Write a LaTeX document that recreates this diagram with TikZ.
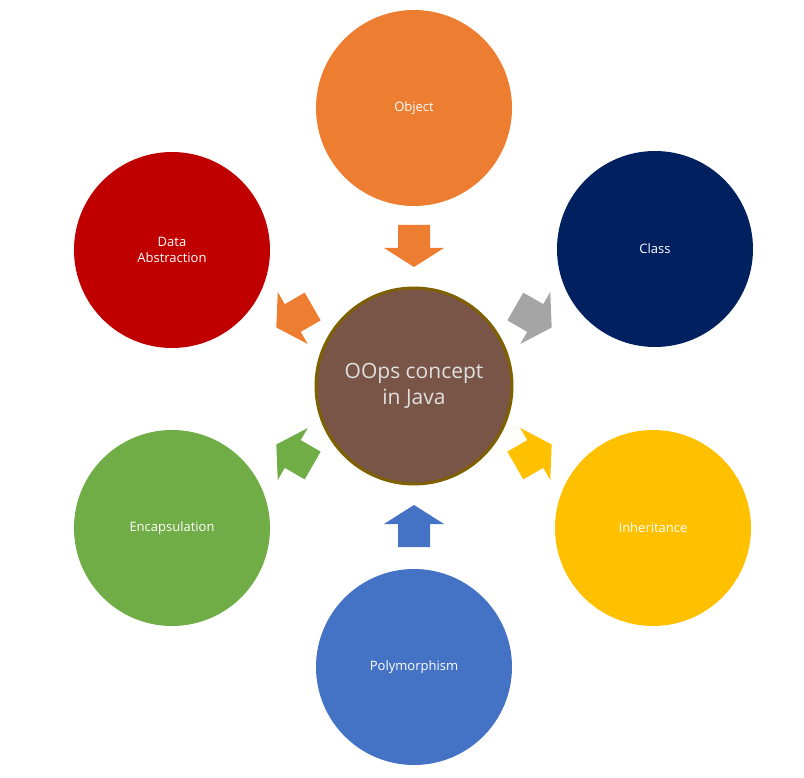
\documentclass[tikz,border=0pt]{standalone}
\usepackage{fontspec}
\setmainfont{Open Sans}
\definecolor{cobj}{HTML}{ED7D31}
\definecolor{ccls}{HTML}{002060}
\definecolor{cinh}{HTML}{FFC000}
\definecolor{cpol}{HTML}{4472C4}
\definecolor{cenc}{HTML}{70AD47}
\definecolor{cda}{HTML}{C00000}
\definecolor{cgray}{HTML}{A5A5A5}
\definecolor{ccen}{HTML}{795548}
\definecolor{cbor}{HTML}{7F6000}
\tikzset{
  outer/.style={circle,minimum size=196pt,inner sep=0pt,text=white,font=\fontsize{13}{16}\selectfont,align=center},
  blockarrow/.pic={\fill[#1] (-21pt,-16pt) -- (2pt,-16pt) -- (2pt,-30pt) -- (21pt,0pt) -- (2pt,30pt) -- (2pt,16pt) -- (-21pt,16pt) -- cycle;}
}
\begin{document}
\begin{tikzpicture}[x=1pt,y=-1pt]
\useasboundingbox (0,0) rectangle (804,778);
\node[circle,minimum size=196pt,inner sep=0pt,fill=ccen,draw=cbor,line width=3pt,text=white!88!black,font=\fontsize{21}{26}\selectfont,align=center] (c) at (414,386) {OOps concept\\in Java};
\node[outer,fill=cobj] (obj) at (414,108) {Object};
\node[outer,fill=ccls] (cls) at (655,249) {Class};
\node[outer,fill=cinh] (inh) at (653,528) {Inheritance};
\node[outer,fill=cpol] (pol) at (414,667) {Polymorphism};
\node[outer,fill=cenc] (enc) at (172,528) {Encapsulation};
\node[outer,fill=cda] (da) at (172,250) {Data\\Abstraction};
\path (c.center) ++(0,-140) pic[rotate=-90] {blockarrow=cobj};
\path (c.center) ++(-30:138) pic[rotate=-30] {blockarrow=cgray};
\path (c.center) ++(30:138) pic[rotate=30] {blockarrow=cinh};
\path (c.center) ++(0,140) pic[rotate=90] {blockarrow=cpol};
\path (c.center) ++(150:138) pic[rotate=150] {blockarrow=cenc};
\path (c.center) ++(210:138) pic[rotate=210] {blockarrow=cobj};
\end{tikzpicture}
\end{document}
